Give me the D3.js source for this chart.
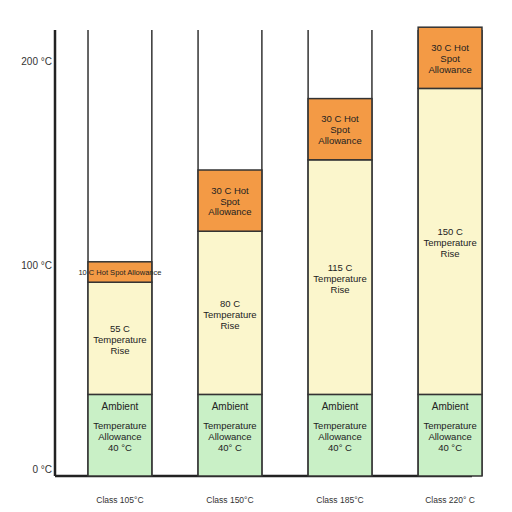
<!DOCTYPE html>
<html><head><meta charset="utf-8">
<script src="https://cdn.jsdelivr.net/npm/d3@7"></script>
<style>body{margin:0;background:#fff}text{font-family:"Liberation Sans",Arial,sans-serif}</style>
</head><body><div id="chart"></div>
<script>
// data
const classes = ["Class 105°C", "Class 150°C", "Class 185°C", "Class 220° C"];
const ambient = [40, 40, 40, 40];
const rise = [55, 80, 115, 150];
const hotSpot = [10, 30, 30, 30];
const yTicks = [0, 100, 200];
const ambientLabels = ["40  °C", "40° C", "40° C", "40  °C"];

const width = 512, height = 512;
const svg = d3.select("#chart").append("svg")
	.attr("width", width).attr("height", height);

const x = d3.scaleBand().domain(classes).range([55, 515]).paddingInner(0.42).paddingOuter(0.3);
const y = d3.scaleLinear().domain([0, 200]).range([476, 68]);
const colTop = 30;

// axis lines
svg.append("line").attr("x1", 55).attr("x2", 55).attr("y1", colTop).attr("y2", y(0))
	.attr("stroke", "#222").attr("stroke-width", 2.5);
svg.append("line").attr("x1", 55).attr("x2", 472).attr("y1", y(0)).attr("y2", y(0))
	.attr("stroke", "#222").attr("stroke-width", 2.5);

// tick labels
svg.selectAll(".ytick").data(yTicks).enter().append("text")
	.attr("x", 52).attr("y", d => y(d) - 3)
	.attr("text-anchor", "end").style("font-size", "10px").attr("fill", "#333")
	.text(d => d + "  °C");

const g = svg.selectAll(".bar").data(classes).enter().append("g");

// column outlines
g.append("line").attr("x1", d => x(d)).attr("x2", d => x(d)).attr("y1", colTop).attr("y2", y(0))
	.attr("stroke", "#333").attr("stroke-width", 1.5);
g.append("line").attr("x1", d => x(d) + x.bandwidth()).attr("x2", d => x(d) + x.bandwidth())
	.attr("y1", colTop).attr("y2", y(0)).attr("stroke", "#333").attr("stroke-width", 1.5);

// segments
const seg = (lo, hi, fill) => g.append("rect")
	.attr("x", d => x(d)).attr("width", x.bandwidth())
	.attr("y", (d, i) => y(hi(i))).attr("height", (d, i) => y(lo(i)) - y(hi(i)))
	.attr("fill", fill).attr("stroke", "#333").attr("stroke-width", 1.5);
seg(i => 0, i => ambient[i], "#c9f0c6");
seg(i => ambient[i], i => ambient[i] + rise[i], "#fbf6cc");
seg(i => ambient[i] + rise[i], i => ambient[i] + rise[i] + hotSpot[i], "#f39a45");

function lines(sel, arr, cy, size) {
	arr.forEach((t, k) => sel.append("text").attr("x", 0).attr("y", cy + k * size * 1.15)
		.attr("text-anchor", "middle").style("font-size", size + "px").attr("fill", "#222").text(t));
}

g.each(function (d, i) {
	const s = d3.select(this);
	const cx = x(d) + x.bandwidth() / 2;
	const t = s.append("g").attr("transform", `translate(${cx},0)`);
	// ambient
	lines(t, ["Ambient"], y(ambient[i]) + 16, 10);
	lines(t, ["Temperature", "Allowance", ambientLabels[i]], y(ambient[i]) + 35, 9.5);
	// rise
	const rm = y(ambient[i] + rise[i] / 2);
	lines(t, [rise[i] + " C", "Temperature", "Rise"], rm - 6, 9.5);
	// hot spot
	const hm = y(ambient[i] + rise[i] + hotSpot[i] / 2);
	if (hotSpot[i] > 15) lines(t, [hotSpot[i] + " C  Hot", "Spot", "Allowance"], hm - 7, 9.5);
	else lines(t, [hotSpot[i] + " C Hot Spot Allowance"], hm + 3, 7.5);
});

// class labels
svg.selectAll(".xl").data(classes).enter().append("text")
	.attr("x", d => x(d) + x.bandwidth() / 2).attr("y", 503)
	.attr("text-anchor", "middle").style("font-size", "8.5px").attr("fill", "#333")
	.text(d => d);
</script></body></html>
